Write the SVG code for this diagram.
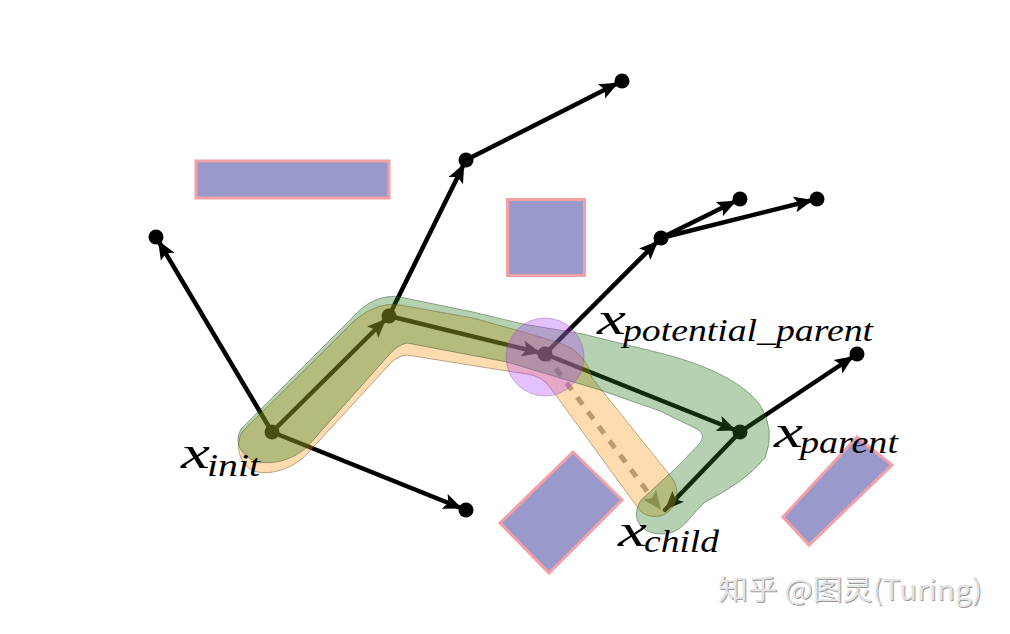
<svg xmlns="http://www.w3.org/2000/svg" width="1010" height="634" viewBox="0 0 1010 634">
  <style>
    .obs { fill: #9999cc; stroke: #f2a0a6; stroke-width: 3; }
    .edge { stroke: #000; stroke-width: 4.5; fill: none; stroke-linecap: round; }
    .dot { fill: #000; }
    .lbl { font-family: "Liberation Serif", "Times New Roman", serif; font-style: italic; fill: #000; }
    .wm { font-family: "Noto Sans CJK SC", "Noto Sans", sans-serif; font-size: 28px; }
  </style>
  <defs>
    <marker id="arr" markerUnits="userSpaceOnUse" markerWidth="26" markerHeight="18" viewBox="0 0 26 18" refX="23" refY="9" orient="auto">
      <path d="M0,1 L19,9 L0,17 L4,9 z" fill="#000"/>
    </marker>
    <marker id="arrTip" markerUnits="userSpaceOnUse" markerWidth="20" markerHeight="18" viewBox="0 0 20 18" refX="19" refY="9" orient="auto">
      <path d="M0,1 L19,9 L0,17 L4,9 z" fill="#000"/>
    </marker>
    <marker id="arrGrey" markerUnits="userSpaceOnUse" markerWidth="20" markerHeight="18" viewBox="0 0 20 18" refX="19" refY="9" orient="auto">
      <path d="M0,1 L19,9 L0,17 L4,9 z" fill="#9a9a9a"/>
    </marker>
  </defs>
  <rect width="1010" height="634" fill="#fff"/>

  <g id="obstacles">
    <rect class="obs" x="196" y="161" width="193" height="37"/>
    <rect class="obs" x="507.5" y="199.5" width="77" height="76"/>
    <polygon class="obs" points="573,452 622,500 549,573 500,523"/>
    <polygon class="obs" points="857,437 892,465 809,545 783,517"/>
  </g>

  <g id="connectors">
    <line class="edge" x1="272" y1="432" x2="156" y2="237" marker-end="url(#arr)"/>
    <line class="edge" x1="272" y1="432" x2="466" y2="510" marker-end="url(#arr)"/>
    <line class="edge" x1="272" y1="432" x2="389" y2="316" marker-end="url(#arr)"/>
    <line class="edge" x1="389" y1="316" x2="466" y2="160" marker-end="url(#arr)"/>
    <line class="edge" x1="466" y1="160" x2="622" y2="81" marker-end="url(#arr)"/>
    <line class="edge" x1="389" y1="316" x2="545" y2="354" marker-end="url(#arr)"/>
    <line class="edge" x1="545" y1="354" x2="661" y2="238" marker-end="url(#arr)"/>
    <line class="edge" x1="661" y1="238" x2="740" y2="199" marker-end="url(#arr)"/>
    <line class="edge" x1="661" y1="238" x2="817" y2="199" marker-end="url(#arr)"/>
    <line class="edge" x1="545" y1="354" x2="740" y2="432" marker-end="url(#arr)"/>
    <line class="edge" x1="740" y1="432" x2="857" y2="354" marker-end="url(#arr)"/>
    <line class="edge" x1="740" y1="432" x2="665" y2="510" marker-end="url(#arrTip)"/>
    <line x1="545" y1="354" x2="661" y2="510" stroke="#9a9a9a" stroke-width="5" stroke-dasharray="9 9" marker-end="url(#arrGrey)"/>
  </g>

  <g id="n-init"><circle class="dot" cx="272" cy="432" r="7.5"/></g>
  <g id="n-leaf1"><circle class="dot" cx="156" cy="237" r="7.5"/></g>
  <g id="n-leaf2"><circle class="dot" cx="466" cy="510" r="7.5"/></g>
  <g id="n-a"><circle class="dot" cx="389" cy="316" r="7.5"/></g>
  <g id="n-b"><circle class="dot" cx="466" cy="160" r="7.5"/></g>
  <g id="n-c"><circle class="dot" cx="622" cy="81" r="7.5"/></g>
  <g id="n-potential"><circle class="dot" cx="545" cy="354" r="7.5"/></g>
  <g id="n-d"><circle class="dot" cx="661" cy="238" r="7.5"/></g>
  <g id="n-e"><circle class="dot" cx="740" cy="199" r="7.5"/></g>
  <g id="n-f"><circle class="dot" cx="817" cy="199" r="7.5"/></g>
  <g id="n-parent"><circle class="dot" cx="740" cy="432" r="7.5"/></g>
  <g id="n-g"><circle class="dot" cx="857" cy="354" r="7.5"/></g>

  <g id="band-orange">
    <path d="M242,432 L355,320 Q378,301 400,305 L473,318 L523,332 L560,343 Q586,352 592,378 L672,478 C682,492 676,512 660,516 C650,518 642,514 638,508 L552,390 Q543,376 527,374 L507,371 L407,355 Q396,356 388,366 L307,454 C290,472 262,477 250,469 C239,461 235,445 242,432 Z" fill="#ff9a1a" fill-opacity="0.35" stroke="#6a4a20" stroke-opacity="0.45" stroke-width="1"/>
  </g>
  <g id="band-green">
    <path d="M241,429 L351,319 Q373,293 400,297 L473,312 L523,324 L583,334 L660,353 C700,363 742,380 760,405 Q776,430 765,458 Q745,482 705,502 C690,515 683,535 660,534 C640,533 630,518 641,500 L677,467 L700,443 Q706,434 697,429 L660,411 L600,390 L507,362 L407,343 Q397,345 388,356 L307,447 C290,463 262,467 249,458 C238,450 235,440 241,429 Z" fill="#2a7a20" fill-opacity="0.35" stroke="#2a4a2a" stroke-opacity="0.45" stroke-width="1"/>
  </g>
  <g id="near-region">
    <circle cx="545" cy="357" r="39" fill="#b040ff" fill-opacity="0.33" stroke="#8050a0" stroke-opacity="0.4" stroke-width="1"/>
  </g>

  <g id="labels">
    <g id="lbl-init">
      <text class="lbl" x="181" y="468" font-size="46" textLength="29" lengthAdjust="spacingAndGlyphs">x</text>
      <text class="lbl" x="207" y="476" font-size="31" textLength="53" lengthAdjust="spacingAndGlyphs">init</text>
    </g>
    <g id="lbl-potential">
      <text class="lbl" x="597" y="334" font-size="46" textLength="29" lengthAdjust="spacingAndGlyphs">x</text>
      <text class="lbl" x="623" y="341" font-size="31" textLength="250" lengthAdjust="spacingAndGlyphs">potential_parent</text>
    </g>
    <g id="lbl-parent">
      <text class="lbl" x="774" y="447" font-size="46" textLength="29" lengthAdjust="spacingAndGlyphs">x</text>
      <text class="lbl" x="800" y="453" font-size="31" textLength="98" lengthAdjust="spacingAndGlyphs">parent</text>
    </g>
    <g id="lbl-child">
      <text class="lbl" x="618" y="546" font-size="46" textLength="29" lengthAdjust="spacingAndGlyphs">x</text>
      <text class="lbl" x="644" y="552" font-size="31" textLength="75" lengthAdjust="spacingAndGlyphs">child</text>
    </g>
  </g>

  <g id="watermark">
    <text class="wm" x="719" y="601" fill="#9a9a9a" textLength="264" lengthAdjust="spacingAndGlyphs">知乎 @图灵(Turing)</text>
    <text class="wm" x="718" y="600" fill="#e4e4e4" textLength="264" lengthAdjust="spacingAndGlyphs">知乎 @图灵(Turing)</text>
  </g>
</svg>
